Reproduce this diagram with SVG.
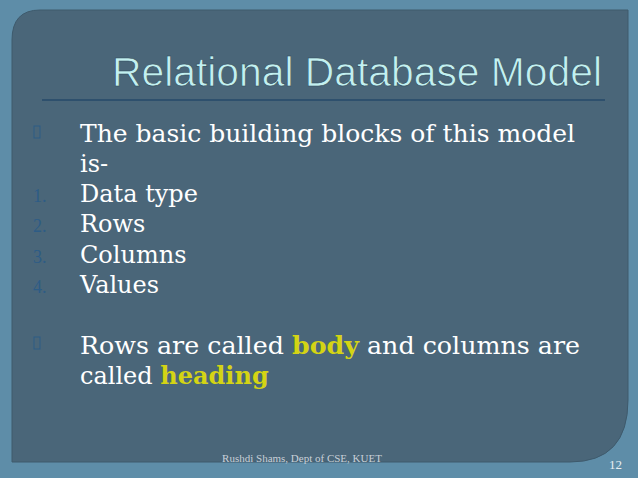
<svg xmlns="http://www.w3.org/2000/svg" width="638" height="478" viewBox="0 0 638 478">
<style>
.t{font-family:"DejaVu Serif","Liberation Serif",serif;font-size:24px;fill:#ffffff}
.y{fill:#d4d414;font-weight:bold}
.n{font-family:"Liberation Serif",serif;font-size:18px;fill:#2d5c86}
.b{fill:none;stroke:#2d5c86;stroke-width:1}
</style>
<rect width="638" height="478" fill="#5e8da8"/>
<path d="M40,10 H628 V400 Q628,462 570,462 H12 V40 Q12,10 40,10 Z" fill="#4a6679" stroke="#3e5a6c" stroke-width="1"/>
<g id="title">
<text x="112" y="86" textLength="490" lengthAdjust="spacingAndGlyphs" font-family="Liberation Sans,Arial,sans-serif" font-size="40" fill="#c2f0f0" stroke="#2d4656" stroke-width="0.6">Relational Database Model</text>
<line x1="42" y1="100" x2="605" y2="100" stroke="#264a6a" stroke-width="1.5"/>
</g>
<g id="body">
<rect class="b" x="34" y="126" width="6" height="12"/>
<text class="t" x="80" y="142" textLength="495" lengthAdjust="spacingAndGlyphs">The basic building blocks of this model</text>
<text class="t" x="80" y="172">is-</text>
<text class="n" x="33" y="202">1.</text><text class="t" x="80" y="202">Data type</text>
<text class="n" x="33" y="232">2.</text><text class="t" x="80" y="232">Rows</text>
<text class="n" x="33" y="263">3.</text><text class="t" x="80" y="263">Columns</text>
<text class="n" x="33" y="293">4.</text><text class="t" x="80" y="293">Values</text>
<rect class="b" x="34" y="337" width="6" height="12"/>
<text class="t" x="80" y="354" textLength="500" lengthAdjust="spacingAndGlyphs">Rows are called <tspan class="y">body</tspan> and columns are</text>
<text class="t" x="80" y="384">called <tspan class="y">heading</tspan></text>
</g>
<g id="footer">
<text x="302" y="462" text-anchor="middle" font-family="Liberation Serif,serif" font-size="11" fill="#c8d0d8">Rushdi Shams, Dept of CSE, KUET</text>
<text x="622" y="469" text-anchor="end" font-family="Liberation Serif,serif" font-size="13" fill="#e8eef2">12</text>
</g>
</svg>
